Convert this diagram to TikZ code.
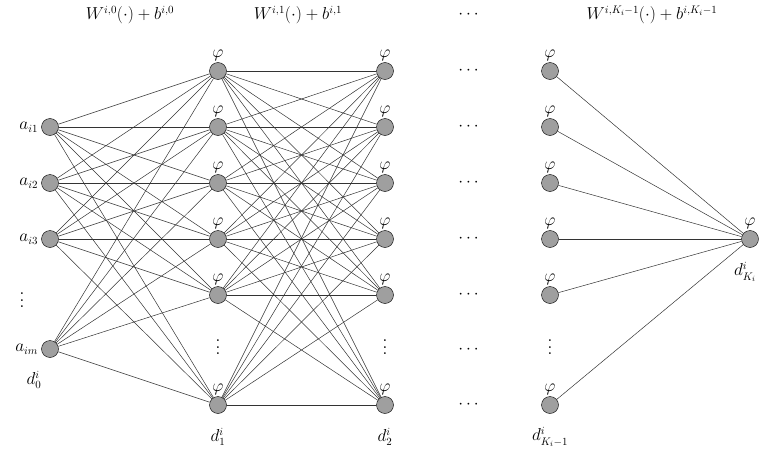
\documentclass[tikz,border=0pt]{standalone}
\usepackage{amsmath}
\begin{document}
\begin{tikzpicture}[x=1pt,y=-1pt,
  neuron/.style={circle,draw=black,fill=gray!75,minimum size=17pt,inner sep=0pt},
  conn/.style={draw=black!80,line width=0.5pt},
  lbl/.style={font=\fontsize{16}{19}\selectfont,inner sep=1pt},
  vd/.style={inner sep=0pt,scale=1.7}]
\useasboundingbox (0,0) rectangle (764,450);
% column 0
\foreach \n/\y in {1/127,2/183,3/239,4/349}
  \node[neuron] (a\n) at (50,\y) {};
\node[lbl,left=2pt] at (a1.west) {$a_{i1}$};
\node[lbl,left=2pt] at (a2.west) {$a_{i2}$};
\node[lbl,left=2pt] at (a3.west) {$a_{i3}$};
\node[lbl,left=2pt] at (a4.west) {$a_{im}$};
\node[vd] (vd0) at (22,295) {$\vdots$};
\node[lbl] (d0) at (34,380) {$d^i_0$};
% columns 1,2,3
\foreach \c/\x in {b/218,c/385,e/550}{
  \foreach \n/\y in {1/71,2/127,3/183,4/239,5/295,6/405}{
    \node[neuron] (\c\n) at (\x,\y) {};
    \node[lbl,above=0pt] at (\c\n.north) {$\varphi$};
  }
  \node[vd] at (\x,342) {$\vdots$};
}
\foreach \y in {71,127,183,239,295,350,405}
  \node[lbl] at (470,\y) {$\cdots$};
\node[neuron] (f) at (750,239) {};
\node[lbl,above=0pt] at (f.north) {$\varphi$};
\node[lbl] at (745,272) {$d^i_{K_i}$};
\node[lbl] at (218,437) {$d^i_1$};
\node[lbl] at (385,437) {$d^i_2$};
\node[lbl] at (550,437) {$d^i_{K_i-1}$};
% titles
\node[lbl] at (130,15) {$W^{i,0}(\cdot)+b^{i,0}$};
\node[lbl] at (298,15) {$W^{i,1}(\cdot)+b^{i,1}$};
\node[lbl] at (470,15) {$\cdots$};
\node[lbl] at (652,15) {$W^{i,K_i-1}(\cdot)+b^{i,K_i-1}$};
% connections
\foreach \i in {1,...,4}\foreach \j in {1,...,6} \draw[conn] (a\i) -- (b\j);
\foreach \i in {1,...,6}\foreach \j in {1,...,6} \draw[conn] (b\i) -- (c\j);
\foreach \i in {1,...,6} \draw[conn] (e\i) -- (f);
\end{tikzpicture}
\end{document}
